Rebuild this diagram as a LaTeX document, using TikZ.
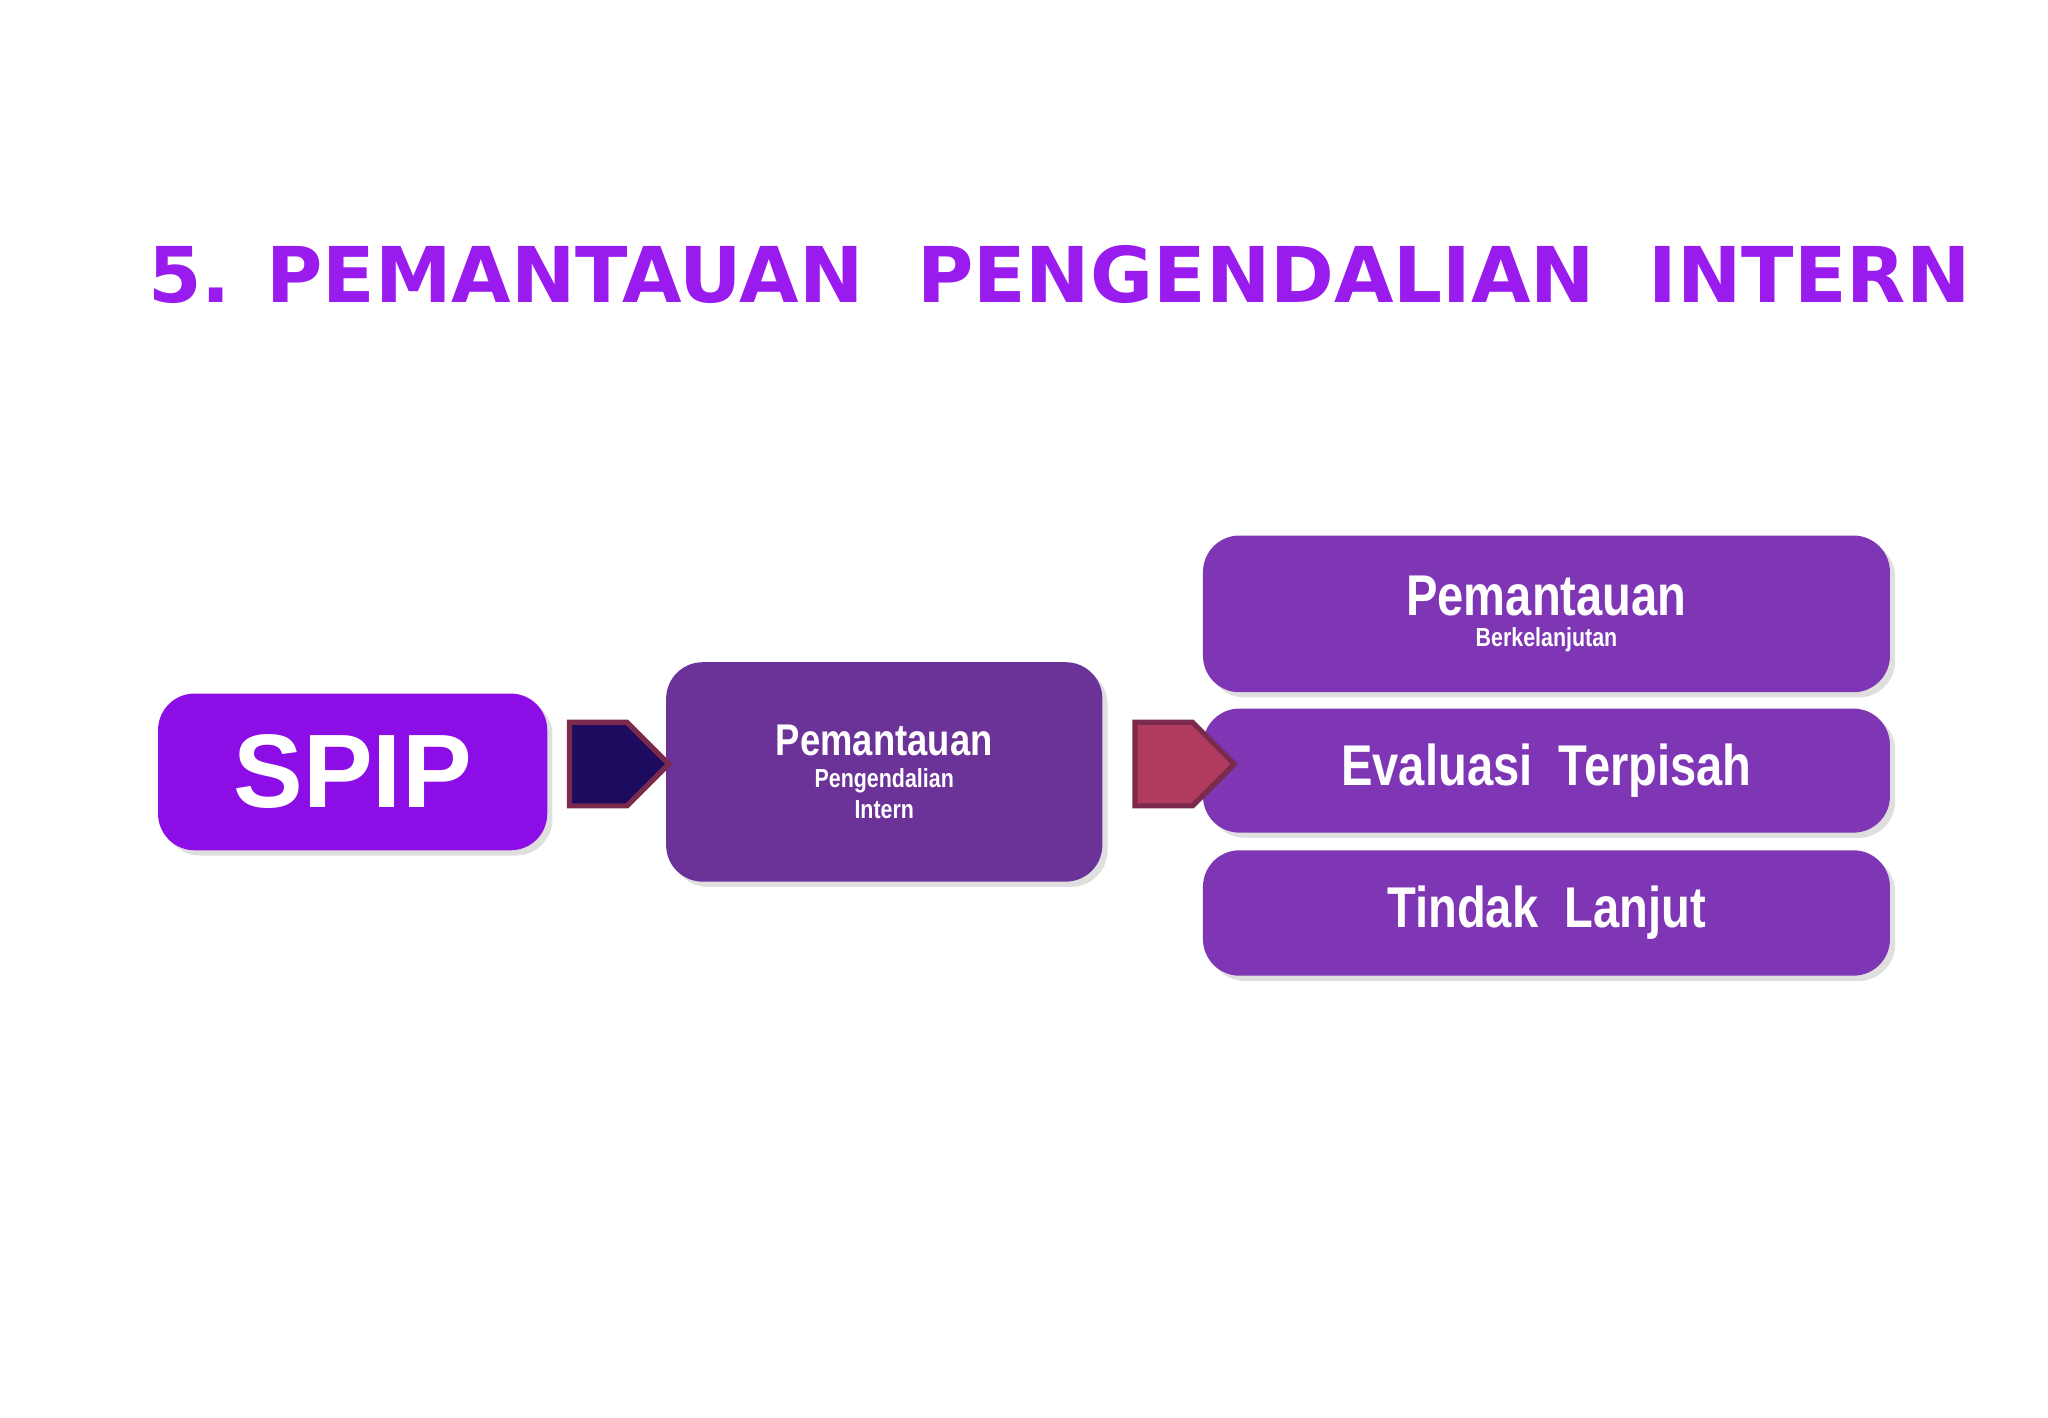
\documentclass[tikz,border=0pt]{standalone}
\usepackage{fontspec}
\setmainfont{Liberation Sans}
\newfontfamily\titlefont{DejaVu Sans}
\usepackage{tikz}
\usetikzlibrary{shapes.arrows,shadows}

\definecolor{titlepurple}{HTML}{9A1BEE}
\definecolor{spipcol}{HTML}{8C0DE6}
\definecolor{midcol}{HTML}{6B3297}
\definecolor{rightcol}{HTML}{7E36B5}
\definecolor{navy}{HTML}{1C0B5E}
\definecolor{rosecol}{HTML}{B23B60}
\definecolor{rimcol}{HTML}{7A2A4C}

\newcommand{\narrow}[1]{\scalebox{0.82}[1]{#1}}

\begin{document}
\begin{tikzpicture}[x=0.5pt,y=-0.5pt,
    box/.style={fill=#1, rounded corners=14pt, inner sep=0pt, text=white,
        font=\bfseries, align=center, drop shadow={opacity=0.25,shadow xshift=2pt,shadow yshift=-2pt}},
    blockarrow/.style={single arrow, draw=rimcol, line width=2pt, fill=#1,
        minimum height=38pt, minimum width=32pt, single arrow head extend=0pt,
        inner sep=0pt, anchor=center}]
    \useasboundingbox (0,0) rectangle (1568,1085);

    % title
    \node (title) at (811,210) {\resizebox{697.5pt}{!}{\titlefont\bfseries\color{titlepurple}5. PEMANTAUAN\ \ PENGENDALIAN\ \ INTERN}};

    % boxes
    \node[box=spipcol, minimum width=149pt, minimum height=60pt] (spip) at (270,591)
        {\fontsize{40}{40}\selectfont SPIP};
    \node[box=midcol, minimum width=167pt, minimum height=84pt] (ppi) at (677,591)
        {\fontsize{17}{24}\selectfont\narrow{Pemantauan}\\\narrow{Pengendalian}\\\narrow{Intern}};
    \node[box=rightcol, minimum width=263pt, minimum height=60pt] (pb) at (1184,470)
        {\fontsize{22}{29}\selectfont\narrow{Pemantauan}\\\narrow{Berkelanjutan}};
    \node[box=rightcol, minimum width=263pt, minimum height=47.5pt] (et) at (1184,590)
        {\fontsize{22}{29}\selectfont\narrow{Evaluasi\ \ Terpisah}};
    \node[box=rightcol, minimum width=263pt, minimum height=48pt] (tl) at (1184,699)
        {\fontsize{22}{29}\selectfont\narrow{Tindak\ \ Lanjut}};

    % block arrows
    \node[blockarrow=navy] (a1) at (458,585) {};
    \node[blockarrow=rosecol] (a2) at (891,585) {};
\end{tikzpicture}
\end{document}
